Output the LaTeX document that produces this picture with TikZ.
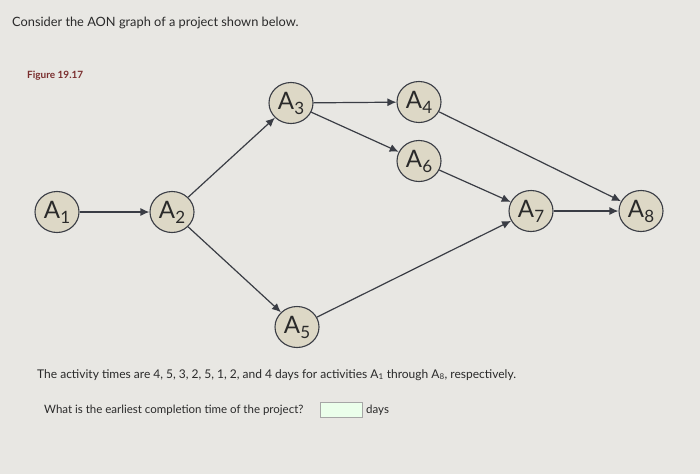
\documentclass[tikz,border=0pt]{standalone}
\usepackage{fontspec}
\setmainfont{Lato}
\usetikzlibrary{shapes.geometric,arrows.meta}
\definecolor{bg}{HTML}{E8E7E3}
\definecolor{nodefill}{HTML}{DDD8C6}
\definecolor{edge}{HTML}{3A3D45}
\definecolor{txt}{HTML}{2A2A2A}
\definecolor{figred}{HTML}{7A2E2E}
\newcommand{\alab}[1]{{\fontsize{24}{24}\selectfont A}\kern0.3pt\raisebox{-5pt}{\fontsize{17}{17}\selectfont #1}}
\tikzset{
  act/.style={ellipse,draw=edge,line width=1.1pt,fill=nodefill,minimum width=44pt,minimum height=41pt,inner sep=0pt,text=txt},
  link/.style={draw=edge,line width=1.2pt,-{Latex[length=9pt,width=8pt]}}
}
\begin{document}
\begin{tikzpicture}[x=1pt,y=-1pt]
\fill[bg] (0,0) rectangle (700,474);
\useasboundingbox (0,0) rectangle (700,474);
\node[anchor=base west,text=txt,font=\fontsize{12.8}{14}\selectfont,inner sep=0pt] (title) at (12,26) {Consider the AON graph of a project shown below.};
\node[anchor=base west,text=figred,font=\fontsize{10}{12}\selectfont\bfseries,inner sep=0pt] (fig) at (27,78) {Figure 19.17};

\node[act] (a1) at (57,212) {\alab{1}};
\node[act] (a2) at (172,212) {\alab{2}};
\node[act] (a3) at (291,103) {\alab{3}};
\node[act] (a4) at (419,102) {\alab{4}};
\node[act] (a6) at (419,161) {\alab{6}};
\node[act] (a7) at (531,211) {\alab{7}};
\node[act] (a8) at (641,211) {\alab{8}};
\node[act] (a5) at (297,327) {\alab{5}};

\draw[link] (a1) -- (a2);
\draw[link] (a2) -- (a3);
\draw[link] (a2) -- (a5);
\draw[link] (a3) -- (a4);
\draw[link] (a3) -- (a6);
\draw[link] (a4) -- (a8);
\draw[link] (a6) -- (a7);
\draw[link] (a5) -- (a7);
\draw[link] (a7) -- (a8);

\node[anchor=base west,text=txt,font=\fontsize{12}{14}\selectfont,inner sep=0pt] (times) at (37,378) {The activity times are 4, 5, 3, 2, 5, 1, 2, and 4 days for activities A\textsubscript{1} through A\textsubscript{8}, respectively.};
\node[anchor=base west,text=txt,font=\fontsize{11.5}{13}\selectfont,inner sep=0pt] (question) at (44,413) {What is the earliest completion time of the project?};
\node[draw=gray!70,fill=white!92!green,minimum width=42pt,minimum height=15pt,inner sep=0pt,anchor=north west] (box) at (320,402) {};
\node[anchor=base west,text=txt,font=\fontsize{11.5}{13}\selectfont,inner sep=0pt] (days) at (366,413) {days};
\end{tikzpicture}
\end{document}
